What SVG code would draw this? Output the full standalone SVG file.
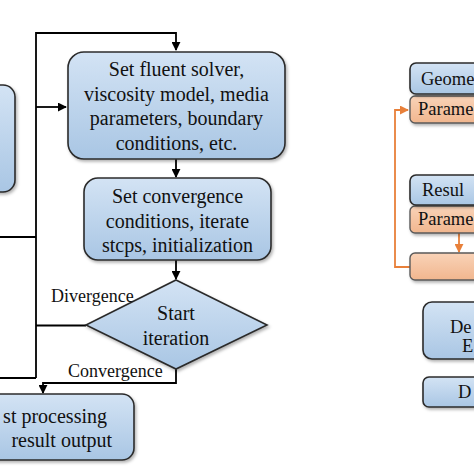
<svg xmlns="http://www.w3.org/2000/svg" width="474" height="474" viewBox="0 0 474 474">
<defs>
<linearGradient id="blue" x1="0" y1="0" x2="0" y2="1">
<stop offset="0" stop-color="#d3e3f4"/>
<stop offset="1" stop-color="#a9c6e4"/>
</linearGradient>
<linearGradient id="orange" x1="0" y1="0" x2="0" y2="1">
<stop offset="0" stop-color="#f9d3b8"/>
<stop offset="1" stop-color="#f1b68e"/>
</linearGradient>
<marker id="ab" viewBox="0 0 10 10" refX="9" refY="5" markerWidth="5" markerHeight="5" orient="auto">
<path d="M0,0 L10,5 L0,10 z" fill="#000"/>
</marker>
<marker id="ao" viewBox="0 0 10 10" refX="9" refY="5" markerWidth="5" markerHeight="5" orient="auto">
<path d="M0,0 L10,5 L0,10 z" fill="#e8803a"/>
</marker>
<filter id="sh" x="-10%" y="-10%" width="130%" height="130%">
<feDropShadow dx="1.5" dy="2" stdDeviation="1.5" flood-color="#000" flood-opacity="0.3"/>
</filter>
</defs>
<style>
.b{fill:url(#blue);stroke:#2b2b2b;stroke-width:1.6;filter:url(#sh)}
.o{fill:url(#orange);stroke:#5a5a5a;stroke-width:1.4;filter:url(#sh)}
.t{font-family:"Liberation Serif","Times New Roman",serif;font-size:20px;fill:#111;text-anchor:middle}
.e{text-anchor:end}
.s{font-family:"Liberation Serif","Times New Roman",serif;font-size:18px;fill:#111}
.r{font-family:"Liberation Serif","Times New Roman",serif;font-size:18.5px;fill:#111}
.k{fill:none;stroke:#000;stroke-width:1.8}
.ol{fill:none;stroke:#e8803a;stroke-width:1.8}
</style>
<rect width="474" height="474" fill="#fff"/>

<g id="connectors">
<path class="k" d="M36,378 V33 H176 V50" marker-end="url(#ab)"/>
<path class="k" d="M36,107 H66" marker-end="url(#ab)"/>
<path class="k" d="M0,237 H36"/>
<path class="k" d="M0,378 H36"/>
<path class="k" d="M86,325.5 H36" stroke-width="2.2"/>
<path class="k" d="M176,159 V177" marker-end="url(#ab)"/>
<path class="k" d="M176,260 V279" marker-end="url(#ab)"/>
<path class="k" d="M176,369 V383 H43 V393" marker-end="url(#ab)"/>
<path class="ol" d="M410,267 H395 V110 H408" marker-end="url(#ao)"/>
<path class="ol" d="M459,233 V252" marker-end="url(#ao)"/>
</g>

<g id="node-left-partial">
<rect class="b" x="-30" y="85" width="45" height="107" rx="12"/>
</g>

<g id="node-fluent">
<rect class="b" x="68" y="52" width="217" height="107" rx="16"/>
<text class="t" x="176.5" y="76">Set fluent solver,</text>
<text class="t" x="176.5" y="100.5">viscosity model, media</text>
<text class="t" x="176.5" y="125">parameters, boundary</text>
<text class="t" x="176.5" y="149.5">conditions, etc.</text>
</g>

<g id="node-convergence">
<rect class="b" x="84" y="178" width="187" height="82" rx="14"/>
<text class="t" x="177.5" y="203">Set convergence</text>
<text class="t" x="177.5" y="227.5">conditions, iterate</text>
<text class="t" x="177.5" y="252">stcps, initialization</text>
</g>

<g id="node-iteration">
<path class="b" d="M176,280 L267,325 L176,369 L86,325 Z"/>
<text class="t" x="176" y="320">Start</text>
<text class="t" x="176" y="345">iteration</text>
</g>

<g id="labels">
<text class="s" x="51" y="302">Divergence</text>
<text class="s" x="68" y="377">Convergence</text>
</g>

<g id="node-post">
<rect class="b" x="-60" y="394" width="194" height="66" rx="12"/>
<text class="t e" x="107" y="423">st processing</text>
<text class="t e" x="112" y="447">result output</text>
</g>

<g id="node-geometry">
<rect class="o" x="410" y="96" width="90" height="27" rx="5"/>
<rect class="b" x="410" y="63" width="90" height="31" rx="6"/>
<text class="r" x="421" y="85">Geome</text>
<text class="r" x="418" y="115">Parame</text>
</g>

<g id="node-result">
<rect class="o" x="410" y="206" width="90" height="27" rx="5"/>
<rect class="b" x="410" y="175" width="90" height="30" rx="6"/>
<text class="r" x="422" y="196">Resul</text>
<text class="r" x="418" y="225">Parame</text>
</g>

<g id="node-orange">
<rect class="o" x="410" y="253" width="90" height="27" rx="5"/>
</g>

<g id="node-design">
<rect class="b" x="423" y="302" width="80" height="57" rx="9"/>
<text class="r" x="450" y="333">De</text>
<text class="r" x="462" y="352">E</text>
</g>

<g id="node-d">
<rect class="b" x="423" y="377" width="80" height="30" rx="6"/>
<text class="r" x="458" y="398">D</text>
</g>
</svg>
